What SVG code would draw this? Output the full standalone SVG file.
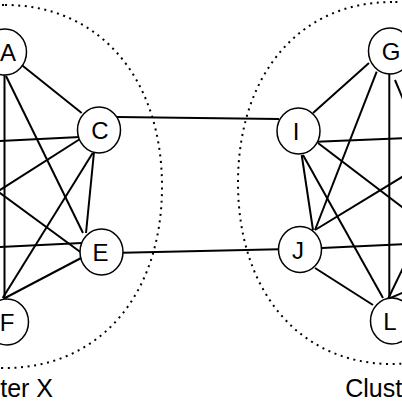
<svg xmlns="http://www.w3.org/2000/svg" width="402" height="402" viewBox="0 0 402 402">
<style>
.cluster{fill:none;stroke:#000;stroke-width:2;stroke-dasharray:2 4.6}
.edge{stroke:#000;stroke-width:2;fill:none}
.node ellipse{fill:#fff;stroke:#000;stroke-width:1.5}
.node text{font-family:"Liberation Sans",Arial,sans-serif;font-size:24px;text-anchor:middle;fill:#000}
.label{font-family:"Liberation Sans",Arial,sans-serif;font-size:25px;text-anchor:middle;fill:#000}
</style>
<rect width="402" height="402" fill="#fff"/>
<g id="clusters">
<path class="cluster" d="M 5,5 C 99.2,5 162,77.6 162,186.5 C 162,295.4 99.2,368 5,368 C -89.2,368 -152,295.4 -152,186.5 C -152,77.6 -89.2,5 5,5 Z"/>
<path class="cluster" d="M 392,2 C 299.6,2 238,74.4 238,183 C 238,291.6 299.6,364 392,364 C 484.4,364 546,291.6 546,183 C 546,74.4 484.4,2 392,2 Z"/>
<text class="label" x="1.6" y="397">Cluster X</text>
<text class="label" x="396.4" y="397">Cluster Y</text>
</g>
<g id="connectors">
<line class="edge" x1="21.7" y1="65" x2="81.7" y2="113"/>
<line class="edge" x1="4.5" y1="75" x2="4.5" y2="299"/>
<line class="edge" x1="6" y1="76" x2="83" y2="233"/>
<line class="edge" x1="80" y1="137" x2="-20" y2="142"/>
<line class="edge" x1="80" y1="139" x2="-20" y2="202.8"/>
<line class="edge" x1="94" y1="152" x2="86" y2="233"/>
<line class="edge" x1="92.7" y1="153" x2="2.7" y2="298"/>
<line class="edge" x1="81.7" y1="253" x2="-20" y2="178.3"/>
<line class="edge" x1="81.7" y1="243" x2="-20" y2="248"/>
<line class="edge" x1="83" y1="257" x2="5" y2="298"/>
<line class="edge" x1="117" y1="117" x2="279" y2="119"/>
<line class="edge" x1="122.7" y1="252.7" x2="279.3" y2="249.3"/>
<line class="edge" x1="369" y1="63" x2="313" y2="113"/>
<line class="edge" x1="376.7" y1="71.7" x2="315" y2="230"/>
<line class="edge" x1="389.3" y1="74" x2="389.3" y2="298"/>
<line class="edge" x1="395" y1="80" x2="420" y2="139.7"/>
<line class="edge" x1="316.7" y1="141.7" x2="420" y2="137.6"/>
<line class="edge" x1="318" y1="143" x2="420" y2="220.7"/>
<line class="edge" x1="301.7" y1="155" x2="313" y2="230"/>
<line class="edge" x1="303" y1="155" x2="383" y2="298"/>
<line class="edge" x1="315" y1="230" x2="420" y2="166"/>
<line class="edge" x1="321.7" y1="248" x2="420" y2="243.5"/>
<line class="edge" x1="315" y1="268" x2="373" y2="305"/>
<line class="edge" x1="388" y1="299" x2="420" y2="232.7"/>
<line class="edge" x1="388" y1="299" x2="420" y2="285.3"/>
</g>
<g id="node-A" class="node"><ellipse cx="5" cy="52" rx="21.5" ry="23"/><text x="8" y="61">A</text></g>
<g id="node-C" class="node"><ellipse cx="99" cy="130" rx="21.5" ry="23"/><text x="100" y="139">C</text></g>
<g id="node-E" class="node"><ellipse cx="101.5" cy="252" rx="21.5" ry="23"/><text x="100.5" y="261">E</text></g>
<g id="node-F" class="node"><ellipse cx="7" cy="322" rx="21.5" ry="23"/><text x="7" y="331">F</text></g>
<g id="node-G" class="node"><ellipse cx="390" cy="51" rx="21.5" ry="23"/><text x="391" y="60">G</text></g>
<g id="node-I" class="node"><ellipse cx="298.5" cy="131" rx="21.5" ry="23"/><text x="296" y="140">I</text></g>
<g id="node-J" class="node"><ellipse cx="300" cy="249.5" rx="21.5" ry="23"/><text x="298" y="258.5">J</text></g>
<g id="node-L" class="node"><ellipse cx="392" cy="321" rx="21.5" ry="23"/><text x="390" y="330">L</text></g>
</svg>
